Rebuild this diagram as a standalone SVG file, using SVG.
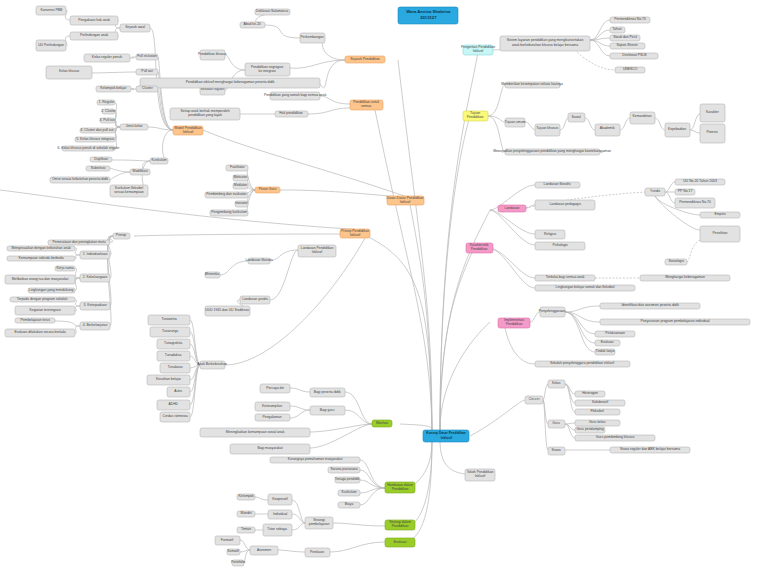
<svg xmlns="http://www.w3.org/2000/svg" width="768" height="573" viewBox="0 0 768 573">
<style>
.n rect{fill:#e2e2e2;stroke:#b5b5b5;stroke-width:.6}
.o rect{fill:#fdc48c;stroke:#e9a260;stroke-width:.6}
.p rect{fill:#f49ac8;stroke:#de70a8;stroke-width:.6}
.g rect{fill:#9acd2a;stroke:#7aa818;stroke-width:.6}
.y rect{fill:#fafa78;stroke:#d6d64a;stroke-width:.6}
.c rect{fill:#c6f6f6;stroke:#8ad8d8;stroke-width:.6}
.b rect{fill:#29a9e0;stroke:#1c8cc0;stroke-width:.6}
text{font-family:"Liberation Sans",Arial,sans-serif;font-size:6.8px;fill:#444;text-anchor:middle;transform-box:fill-box;transform-origin:center;transform:scale(.5)}
.b text{fill:#0b3550;font-size:8.4px;font-weight:bold}
#links path{fill:none;stroke:#b8b8b8;stroke-width:.7}
#links path.d{stroke-dasharray:2 1.5}
</style>
<rect width="768" height="573" fill="#fff"/>
<g id="links">
<path d="M432 430 C432 300 420 250 398 60"/>
<path d="M432 430 C430 330 410 280 375 110"/>
<path d="M432 430 C430 300 420 260 410 204"/>
<path d="M432 430 C430 300 420 260 362 234"/>
<path d="M440 430 C440 200 470 100 478 52"/>
<path d="M440 430 C440 250 460 150 470 116"/>
<path d="M440 430 C440 300 470 250 490 210"/>
<path d="M440 430 C440 320 460 280 474 248"/>
<path d="M440 430 C440 380 470 340 490 322"/>
<path d="M432 430 C432 425 420 425 400 424"/>
<path d="M432 440 C432 470 420 480 410 488"/>
<path d="M432 440 C432 500 420 520 410 526"/>
<path d="M432 440 C432 520 420 535 408 542"/>
<path d="M440 440 C440 465 450 472 465 474"/>
<path d="M470 436 C500 420 520 400 525 400"/>
<path d="M410 198 C330 170 250 150 203 130"/>
<path d="M410 198 C330 190 300 190 280 190"/>
<path d="M362 234 C300 234 200 234 134 236"/>
<path d="M365 230 C200 220 80 200 0 190"/>
<path d="M345 60 C320 60 320 40 325 38"/>
<path d="M345 60 C320 60 310 70 290 68"/>
<path d="M345 60 C320 60 330 100 320 84"/>
<path d="M300 38 C270 38 290 25 265 25"/>
<path d="M265 25 C250 25 250 12 290 12"/>
<path d="M245 70 C230 70 230 55 225 55"/>
<path d="M245 70 C230 70 230 90 225 90"/>
<path d="M350 104 C330 104 330 96 320 96"/>
<path d="M350 108 C330 108 330 114 308 114"/>
<path d="M275 114 C250 114 250 114 240 114"/>
<path d="M173 130 C150 130 160 28 150 28"/>
<path d="M120 28 C110 28 120 20 118 20"/>
<path d="M120 28 C110 28 120 36 118 36"/>
<path d="M70 20 C60 20 70 10 66 10"/>
<path d="M70 36 C60 36 70 46 66 46"/>
<path d="M173 130 C160 130 160 57 158 57"/>
<path d="M173 130 C160 130 160 72 158 72"/>
<path d="M173 130 C160 130 160 89 158 89"/>
<path d="M173 130 C160 130 160 127 148 127"/>
<path d="M173 130 C160 130 160 161 168 161"/>
<path d="M136 57 C125 57 140 58 130 58"/>
<path d="M136 72 C125 72 100 73 92 73"/>
<path d="M136 89 C125 89 140 89 131 89"/>
<path d="M120 127 C110 127 120 103 115 103"/>
<path d="M120 127 C110 127 120 112 115 112"/>
<path d="M120 127 C110 127 120 121 115 121"/>
<path d="M120 127 C110 127 120 131 115 131"/>
<path d="M120 127 C110 127 120 140 115 140"/>
<path d="M120 127 C110 127 120 149 115 149"/>
<path d="M150 161 C140 161 140 160 112 160"/>
<path d="M150 161 C140 161 140 172 150 172"/>
<path d="M150 161 C140 161 140 190 148 190"/>
<path d="M130 172 C120 172 110 168 110 168"/>
<path d="M130 172 C120 172 110 180 110 180"/>
<path d="M255 190 C250 190 245 168 248 168"/>
<path d="M255 190 C250 190 245 178 248 178"/>
<path d="M255 190 C250 190 245 186 248 186"/>
<path d="M255 190 C250 190 245 195 248 195"/>
<path d="M255 190 C250 190 245 204 248 204"/>
<path d="M255 190 C250 190 245 213 248 213"/>
<path d="M113 236 C100 236 120 242 110 242"/>
<path d="M113 236 C100 236 115 255 110 255"/>
<path d="M113 236 C100 236 115 278 110 278"/>
<path d="M113 236 C100 236 115 306 110 306"/>
<path d="M113 236 C100 236 115 326 110 326"/>
<path d="M80 255 C70 255 80 248 75 248"/>
<path d="M80 255 C70 255 80 258 75 258"/>
<path d="M80 278 C70 278 80 268 75 268"/>
<path d="M80 278 C70 278 80 279 75 279"/>
<path d="M80 278 C70 278 80 290 75 290"/>
<path d="M80 306 C70 306 80 300 75 300"/>
<path d="M80 306 C70 306 80 311 75 311"/>
<path d="M80 326 C70 326 80 321 55 321"/>
<path d="M80 326 C70 326 80 333 75 333"/>
<path d="M298 250 C280 250 280 260 270 261"/>
<path d="M298 250 C290 250 285 300 270 300"/>
<path d="M248 261 C230 261 230 275 220 275"/>
<path d="M240 300 C230 300 250 310 250 310"/>
<path d="M200 365 C195 365 195 320 190 320"/>
<path d="M200 365 C195 365 195 332 190 332"/>
<path d="M200 365 C195 365 195 344 190 344"/>
<path d="M200 365 C195 365 195 356 190 356"/>
<path d="M200 365 C195 365 195 368 190 368"/>
<path d="M200 365 C195 365 195 380 190 380"/>
<path d="M200 365 C195 365 195 392 190 392"/>
<path d="M200 365 C195 365 195 405 190 405"/>
<path d="M200 365 C195 365 195 417 190 417"/>
<path d="M365 238 C330 300 270 365 225 365"/>
<path d="M372 424 C360 424 360 392 345 392"/>
<path d="M372 424 C360 424 360 410 345 410"/>
<path d="M372 424 C360 424 330 432 310 432"/>
<path d="M372 424 C360 424 330 448 310 448"/>
<path d="M310 392 C300 392 300 388 290 388"/>
<path d="M310 410 C300 410 300 406 290 406"/>
<path d="M310 410 C300 410 300 418 290 418"/>
<path d="M385 488 C370 488 370 460 360 460"/>
<path d="M385 488 C370 488 370 470 360 470"/>
<path d="M385 488 C370 488 370 480 360 480"/>
<path d="M385 488 C370 488 370 493 360 493"/>
<path d="M385 488 C370 488 370 505 360 505"/>
<path d="M385 526 C360 526 350 523 333 523"/>
<path d="M385 542 C360 542 350 552 330 552"/>
<path d="M305 523 C300 523 300 500 292 500"/>
<path d="M305 523 C300 523 300 514 292 514"/>
<path d="M305 523 C300 523 300 530 292 530"/>
<path d="M268 500 C260 500 260 497 255 497"/>
<path d="M268 514 C260 514 260 514 255 514"/>
<path d="M263 530 C260 530 260 530 255 530"/>
<path d="M305 552 C295 552 285 550 278 550"/>
<path d="M250 550 C245 550 245 540 240 540"/>
<path d="M250 550 C245 550 245 552 240 552"/>
<path d="M250 550 C245 550 245 563 244 563"/>
<path d="M493 50 C520 50 520 42 545 42"/>
<path d="M590 40 C600 40 600 20 610 20"/>
<path d="M590 40 C600 40 600 30 610 30"/>
<path d="M590 40 C600 40 600 38 610 38"/>
<path d="M590 40 C600 40 600 46 610 46"/>
<path d="M590 40 C600 40 600 56 610 56"/>
<path d="M575 50 C585 60 600 70 615 70" class="d"/>
<path d="M488 116 C500 116 500 85 505 85"/>
<path d="M488 116 C500 116 500 122 505 122"/>
<path d="M488 116 C500 116 500 152 505 152"/>
<path d="M525 122 C530 122 530 128 535 130"/>
<path d="M560 130 C565 130 565 118 568 118"/>
<path d="M585 118 C590 118 590 130 595 130"/>
<path d="M620 130 C625 130 625 118 630 118"/>
<path d="M655 118 C660 118 660 130 665 130"/>
<path d="M690 130 C695 130 695 114 700 114"/>
<path d="M690 130 C695 130 695 133 700 133"/>
<path d="M490 210 C500 210 520 185 535 185"/>
<path d="M526 208 C560 200 600 195 645 192" class="d"/>
<path d="M526 208 C530 208 530 205 535 205"/>
<path d="M490 210 C500 210 520 234 535 234"/>
<path d="M490 210 C500 210 520 245 535 245"/>
<path d="M665 192 C670 192 670 182 675 182"/>
<path d="M665 192 C670 192 670 192 675 192"/>
<path d="M665 192 C670 192 670 203 675 203"/>
<path d="M655 196 C660 205 690 215 700 215"/>
<path d="M655 196 C660 205 690 230 700 230"/>
<path d="M700 240 C690 245 690 262 687 262" class="d"/>
<path d="M488 248 C505 248 520 278 535 278"/>
<path d="M488 248 C505 248 520 288 535 288"/>
<path d="M595 278 C610 278 620 278 640 278" class="d"/>
<path d="M530 322 C535 322 535 312 540 312"/>
<path d="M565 312 C580 312 580 306 600 306"/>
<path d="M565 312 C580 312 580 322 600 322"/>
<path d="M565 312 C580 312 580 334 595 334"/>
<path d="M565 312 C580 312 580 343 595 343"/>
<path d="M565 312 C580 312 580 352 595 352"/>
<path d="M505 328 C510 350 520 364 535 364"/>
<path d="M543 400 C545 400 545 384 548 384"/>
<path d="M543 400 C545 400 545 424 548 424"/>
<path d="M543 400 C545 400 545 450 548 450"/>
<path d="M565 384 C570 384 570 394 575 394"/>
<path d="M565 384 C570 384 570 403 575 403"/>
<path d="M565 384 C570 384 570 412 575 412"/>
<path d="M565 424 C570 424 570 423 575 423"/>
<path d="M565 424 C570 424 570 430 575 430"/>
<path d="M565 424 C570 424 570 438 575 438"/>
<path d="M565 450 C590 450 600 450 610 450"/>
</g>
<g id="title" class="b"><rect x="398" y="7" width="60" height="17" rx="2"/><text x="428" y="14.5">Wara Annisa Shabrina</text><text x="428" y="20.5">2013127</text></g>
<g id="center" class="b"><rect x="423" y="430" width="46" height="12" rx="2"/><text x="446" y="435" style="font-size:6.4px">Konsep Dasar Pendidikan</text><text x="446" y="439.5" style="font-size:6.4px">Inklusif</text></g>
<g id="o1" class="o"><rect x="345" y="56" width="40" height="7" rx="2"/><text x="365" y="60.7">Sejarah Pendidikan</text></g>
<g id="o2" class="o"><rect x="350" y="100" width="33" height="10" rx="2"/><text x="366" y="104">Pendidikan untuk</text><text x="366" y="108">semua</text></g>
<g id="o3" class="o"><rect x="387" y="196" width="37" height="9" rx="2"/><text x="405" y="200">Dasar-Dasar Pendidikan</text><text x="405" y="203.5">Inklusif</text></g>
<g id="o4" class="o"><rect x="173" y="126" width="30" height="9" rx="2"/><text x="188" y="130">Model Pendidikan</text><text x="188" y="133.5">Inklusif</text></g>
<g id="o5" class="o"><rect x="255" y="187" width="25" height="6" rx="2"/><text x="267.5" y="191">Peran Guru</text></g>
<g id="o6" class="o"><rect x="340" y="229" width="30" height="9" rx="2"/><text x="355" y="233">Prinsip Pendidikan</text><text x="355" y="236.5">Inklusif</text></g>
<g id="cy" class="c"><rect x="463" y="45" width="30" height="10" rx="2"/><text x="478" y="49">Pengertian Pendidikan</text><text x="478" y="53">Inklusif</text></g>
<g id="ye" class="y"><rect x="463" y="111" width="25" height="10" rx="2"/><text x="475" y="115">Tujuan</text><text x="475" y="119">Pendidikan</text></g>
<g id="p1" class="p"><rect x="498" y="205" width="28" height="7" rx="2"/><text x="512" y="209.5">Landasan</text></g>
<g id="p2" class="p"><rect x="466" y="243" width="27" height="10" rx="2"/><text x="479" y="247">Karakteristik</text><text x="479" y="251">Pendidikan</text></g>
<g id="p3" class="p"><rect x="498" y="318" width="32" height="10" rx="2"/><text x="514" y="322">Implementasi</text><text x="514" y="326">Pendidikan</text></g>
<g id="g1" class="g"><rect x="372" y="420" width="20" height="7" rx="2"/><text x="382" y="424.5">Manfaat</text></g>
<g id="g2" class="g"><rect x="385" y="482" width="30" height="11" rx="2"/><text x="400" y="486.5">Hambatan dalam</text><text x="400" y="490.5">Pendidikan</text></g>
<g id="g3" class="g"><rect x="385" y="520" width="30" height="10" rx="2"/><text x="400" y="524">Strategi dalam</text><text x="400" y="528">Pendidikan</text></g>
<g id="g4" class="g"><rect x="385" y="538" width="30" height="9" rx="2"/><text x="400" y="543.5">Evaluasi</text></g>
<g id="n0" class="n"><rect x="465" y="469" width="30" height="12" rx="2"/><text x="480" y="474">Tokoh Pendidikan</text><text x="480" y="478">Inklusif</text></g>
<g id="n1" class="n"><rect x="300" y="33" width="25" height="10" rx="2"/><text x="312" y="39">Perkembangan</text></g>
<g id="n2" class="n"><rect x="245" y="63" width="45" height="13" rx="2"/><text x="267" y="69">Pendidikan segregasi</text><text x="267" y="73">ke integrasi</text></g>
<g id="n3" class="n"><rect x="240" y="22" width="25" height="6" rx="2"/><text x="252" y="26">Abad ke-20</text></g>
<g id="n4" class="n"><rect x="255" y="9" width="35" height="6" rx="2"/><text x="272" y="13">Deklarasi Salamanca</text></g>
<g id="n5" class="n"><rect x="200" y="50" width="25" height="10" rx="2"/><text x="212" y="56">Pendidikan khusus</text></g>
<g id="n6" class="n"><rect x="200" y="85" width="25" height="10" rx="2"/><text x="212" y="91">Sekolah reguler</text></g>
<g id="n7" class="n"><rect x="270" y="92" width="50" height="8" rx="2"/><text x="295" y="97">Pendidikan yang ramah bagi semua anak</text></g>
<g id="n8" class="n"><rect x="275" y="111" width="33" height="6" rx="2"/><text x="291" y="115">Hak pendidikan</text></g>
<g id="n9" class="n"><rect x="170" y="108" width="70" height="12" rx="2"/><text x="205" y="113">Setiap anak berhak memperoleh</text><text x="205" y="117">pendidikan yang layak</text></g>
<g id="n10" class="n"><rect x="140" y="78" width="180" height="10" rx="2"/><text x="230" y="84">Pendidikan inklusif menghargai keberagaman peserta didik</text></g>
<g id="n11" class="n"><rect x="120" y="24" width="30" height="8" rx="2"/><text x="135" y="29">Sejarah awal</text></g>
<g id="n12" class="n"><rect x="70" y="16" width="48" height="9" rx="2"/><text x="94" y="21.5">Pengakuan hak anak</text></g>
<g id="n13" class="n"><rect x="70" y="32" width="48" height="8" rx="2"/><text x="94" y="37">Perlindungan anak</text></g>
<g id="n14" class="n"><rect x="36" y="6" width="30" height="9" rx="2"/><text x="51" y="11.5">Konvensi PBB</text></g>
<g id="n15" class="n"><rect x="36" y="40" width="30" height="11" rx="2"/><text x="51" y="46.5">UU Perlindungan</text></g>
<g id="n16" class="n"><rect x="136" y="54" width="22" height="6" rx="2"/><text x="147" y="58">Full inclusion</text></g>
<g id="n17" class="n"><rect x="84" y="54" width="46" height="8" rx="2"/><text x="107" y="59">Kelas reguler penuh</text></g>
<g id="n18" class="n"><rect x="136" y="69" width="22" height="6" rx="2"/><text x="147" y="73">Pull out</text></g>
<g id="n19" class="n"><rect x="46" y="66" width="46" height="13" rx="2"/><text x="69" y="73">Kelas khusus</text></g>
<g id="n20" class="n"><rect x="136" y="86" width="22" height="6" rx="2"/><text x="147" y="90">Cluster</text></g>
<g id="n21" class="n"><rect x="96" y="86" width="35" height="6" rx="2"/><text x="113" y="90">Kelompok belajar</text></g>
<g id="n22" class="n"><rect x="120" y="124" width="28" height="6" rx="2"/><text x="134" y="128">Jenis kelas</text></g>
<g id="n23" class="n"><rect x="97" y="100" width="18" height="5" rx="2"/><text x="106" y="103.5">1. Reguler</text></g>
<g id="n24" class="n"><rect x="102" y="109" width="13" height="5" rx="2"/><text x="108" y="112.5">2. Cluster</text></g>
<g id="n25" class="n"><rect x="100" y="118" width="15" height="5" rx="2"/><text x="107" y="121.5">3. Pull out</text></g>
<g id="n26" class="n"><rect x="80" y="128" width="35" height="5" rx="2"/><text x="97" y="131.5">4. Cluster dan pull out</text></g>
<g id="n27" class="n"><rect x="75" y="137" width="40" height="5" rx="2"/><text x="95" y="140.5">5. Kelas khusus integrasi</text></g>
<g id="n28" class="n"><rect x="62" y="146" width="53" height="5" rx="2"/><text x="88" y="149.5">6. Kelas khusus penuh di sekolah reguler</text></g>
<g id="n29" class="n"><rect x="150" y="158" width="18" height="6" rx="2"/><text x="159" y="162">Kurikulum</text></g>
<g id="n30" class="n"><rect x="90" y="157" width="22" height="5" rx="2"/><text x="101" y="160.5">Duplikasi</text></g>
<g id="n31" class="n"><rect x="130" y="169" width="20" height="6" rx="2"/><text x="140" y="173">Modifikasi</text></g>
<g id="n32" class="n"><rect x="86" y="166" width="24" height="5" rx="2"/><text x="98" y="169.5">Substitusi</text></g>
<g id="n33" class="n"><rect x="50" y="177" width="60" height="6" rx="2"/><text x="80" y="181">Omisi sesuai kebutuhan peserta didik</text></g>
<g id="n34" class="n"><rect x="110" y="185" width="38" height="12" rx="2"/><text x="129" y="190">Kurikulum fleksibel</text><text x="129" y="194">sesuai kemampuan</text></g>
<g id="n35" class="n"><rect x="226" y="165" width="22" height="6" rx="2"/><text x="237" y="169">Fasilitator</text></g>
<g id="n36" class="n"><rect x="233" y="175" width="15" height="6" rx="2"/><text x="240" y="179">Motivator</text></g>
<g id="n37" class="n"><rect x="233" y="183" width="15" height="6" rx="2"/><text x="240" y="187">Mediator</text></g>
<g id="n38" class="n"><rect x="205" y="192" width="43" height="6" rx="2"/><text x="226" y="196">Pembimbing dan evaluator</text></g>
<g id="n39" class="n"><rect x="235" y="201" width="13" height="6" rx="2"/><text x="241" y="205">Inovator</text></g>
<g id="n40" class="n"><rect x="210" y="210" width="38" height="6" rx="2"/><text x="229" y="214">Pengembang kurikulum</text></g>
<g id="n41" class="n"><rect x="113" y="233" width="17" height="6" rx="2"/><text x="121" y="237">Prinsip</text></g>
<g id="n42" class="n"><rect x="48" y="240" width="62" height="5" rx="2"/><text x="79" y="243.5">Pemerataan dan peningkatan mutu</text></g>
<g id="n43" class="n"><rect x="80" y="251" width="30" height="8" rx="2"/><text x="95" y="256">1. Individualisasi</text></g>
<g id="n44" class="n"><rect x="7" y="246" width="68" height="5" rx="2"/><text x="41" y="249.5">Menyesuaikan dengan kebutuhan anak</text></g>
<g id="n45" class="n"><rect x="7" y="256" width="68" height="5" rx="2"/><text x="41" y="259.5">Kemampuan individu berbeda</text></g>
<g id="n46" class="n"><rect x="80" y="274" width="30" height="8" rx="2"/><text x="95" y="279">2. Kekeluargaan</text></g>
<g id="n47" class="n"><rect x="55" y="266" width="20" height="5" rx="2"/><text x="65" y="269.5">Kerja sama</text></g>
<g id="n48" class="n"><rect x="5" y="275" width="70" height="9" rx="2"/><text x="40" y="280.5">Melibatkan orang tua dan masyarakat</text></g>
<g id="n49" class="n"><rect x="28" y="288" width="47" height="5" rx="2"/><text x="51" y="291.5">Lingkungan yang mendukung</text></g>
<g id="n50" class="n"><rect x="80" y="302" width="30" height="8" rx="2"/><text x="95" y="307">3. Keterpaduan</text></g>
<g id="n51" class="n"><rect x="10" y="297" width="65" height="5" rx="2"/><text x="42" y="300.5">Terpadu dengan program sekolah</text></g>
<g id="n52" class="n"><rect x="15" y="306" width="60" height="9" rx="2"/><text x="45" y="311.5">Kegiatan terintegrasi</text></g>
<g id="n53" class="n"><rect x="80" y="322" width="30" height="8" rx="2"/><text x="95" y="327">4. Berkelanjutan</text></g>
<g id="n54" class="n"><rect x="15" y="318" width="40" height="5" rx="2"/><text x="35" y="321.5">Pembelajaran terus</text></g>
<g id="n55" class="n"><rect x="5" y="329" width="70" height="8" rx="2"/><text x="40" y="334">Evaluasi dilakukan secara berkala</text></g>
<g id="n56" class="n"><rect x="298" y="245" width="38" height="12" rx="2"/><text x="317" y="250">Landasan Pendidikan</text><text x="317" y="254">Inklusif</text></g>
<g id="n57" class="n"><rect x="248" y="258" width="22" height="6" rx="2"/><text x="259" y="262">Landasan filosofis</text></g>
<g id="n58" class="n"><rect x="240" y="296" width="30" height="8" rx="2"/><text x="255" y="301">Landasan yuridis</text></g>
<g id="n59" class="n"><rect x="205" y="272" width="15" height="6" rx="2"/><text x="212" y="276">Bhinneka</text></g>
<g id="n60" class="n"><rect x="205" y="306" width="45" height="10" rx="2"/><text x="227" y="312">UUD 1945 dan UU Sisdiknas</text></g>
<g id="n61" class="n"><rect x="200" y="361" width="25" height="8" rx="2"/><text x="212" y="366">Anak Berkebutuhan</text></g>
<g id="n62" class="n"><rect x="148" y="315" width="42" height="10" rx="2"/><text x="169" y="321">Tunanetra</text></g>
<g id="n63" class="n"><rect x="150" y="327" width="40" height="10" rx="2"/><text x="170" y="333">Tunarungu</text></g>
<g id="n64" class="n"><rect x="157" y="339" width="33" height="10" rx="2"/><text x="173" y="345">Tunagrahita</text></g>
<g id="n65" class="n"><rect x="157" y="351" width="33" height="10" rx="2"/><text x="173" y="357">Tunadaksa</text></g>
<g id="n66" class="n"><rect x="160" y="363" width="30" height="10" rx="2"/><text x="175" y="369">Tunalaras</text></g>
<g id="n67" class="n"><rect x="147" y="375" width="43" height="10" rx="2"/><text x="168" y="381">Kesulitan belajar</text></g>
<g id="n68" class="n"><rect x="167" y="387" width="23" height="10" rx="2"/><text x="178" y="393">Autis</text></g>
<g id="n69" class="n"><rect x="157" y="400" width="33" height="10" rx="2"/><text x="173" y="406">ADHD</text></g>
<g id="n70" class="n"><rect x="160" y="412" width="30" height="10" rx="2"/><text x="175" y="418">Cerdas istimewa</text></g>
<g id="n71" class="n"><rect x="310" y="388" width="35" height="9" rx="2"/><text x="327" y="393.5">Bagi peserta didik</text></g>
<g id="n72" class="n"><rect x="310" y="406" width="35" height="9" rx="2"/><text x="327" y="411.5">Bagi guru</text></g>
<g id="n73" class="n"><rect x="200" y="428" width="110" height="9" rx="2"/><text x="255" y="433.5">Meningkatkan kemampuan sosial anak</text></g>
<g id="n74" class="n"><rect x="230" y="444" width="80" height="10" rx="2"/><text x="270" y="450">Bagi masyarakat</text></g>
<g id="n75" class="n"><rect x="260" y="384" width="30" height="9" rx="2"/><text x="275" y="389.5">Percaya diri</text></g>
<g id="n76" class="n"><rect x="255" y="402" width="35" height="9" rx="2"/><text x="272" y="407.5">Keterampilan</text></g>
<g id="n77" class="n"><rect x="255" y="414" width="35" height="7" rx="2"/><text x="272" y="418.5">Pengalaman</text></g>
<g id="n78" class="n"><rect x="270" y="457" width="90" height="6" rx="2"/><text x="315" y="461">Kurangnya pemahaman masyarakat</text></g>
<g id="n79" class="n"><rect x="328" y="467" width="32" height="6" rx="2"/><text x="344" y="471">Sarana prasarana</text></g>
<g id="n80" class="n"><rect x="335" y="477" width="25" height="6" rx="2"/><text x="347" y="481">Tenaga pendidik</text></g>
<g id="n81" class="n"><rect x="338" y="490" width="22" height="6" rx="2"/><text x="349" y="494">Kurikulum</text></g>
<g id="n82" class="n"><rect x="338" y="502" width="22" height="6" rx="2"/><text x="349" y="506">Biaya</text></g>
<g id="n83" class="n"><rect x="305" y="517" width="28" height="12" rx="2"/><text x="319" y="522">Strategi</text><text x="319" y="526">pembelajaran</text></g>
<g id="n84" class="n"><rect x="268" y="494" width="24" height="11" rx="2"/><text x="280" y="501">Kooperatif</text></g>
<g id="n85" class="n"><rect x="268" y="510" width="24" height="9" rx="2"/><text x="280" y="515.5">Individual</text></g>
<g id="n86" class="n"><rect x="263" y="524" width="29" height="12" rx="2"/><text x="277" y="531">Tutor sebaya</text></g>
<g id="n87" class="n"><rect x="237" y="494" width="18" height="6" rx="2"/><text x="246" y="498">Kelompok</text></g>
<g id="n88" class="n"><rect x="237" y="511" width="18" height="6" rx="2"/><text x="246" y="515">Mandiri</text></g>
<g id="n89" class="n"><rect x="237" y="527" width="18" height="6" rx="2"/><text x="246" y="531">Teman</text></g>
<g id="n90" class="n"><rect x="305" y="548" width="25" height="9" rx="2"/><text x="317" y="553.5">Penilaian</text></g>
<g id="n91" class="n"><rect x="250" y="546" width="28" height="9" rx="2"/><text x="264" y="551.5">Asesmen</text></g>
<g id="n92" class="n"><rect x="215" y="536" width="25" height="9" rx="2"/><text x="227" y="541.5">Formatif</text></g>
<g id="n93" class="n"><rect x="227" y="549" width="13" height="6" rx="2"/><text x="233" y="553">Sumatif</text></g>
<g id="n94" class="n"><rect x="232" y="560" width="12" height="6" rx="2"/><text x="238" y="564">Portofolio</text></g>
<g id="n95" class="n"><rect x="500" y="36" width="90" height="15" rx="2"/><text x="545" y="42">Sistem layanan pendidikan yang mengikutsertakan</text><text x="545" y="46.5">anak berkebutuhan khusus belajar bersama</text></g>
<g id="n96" class="n"><rect x="610" y="17" width="40" height="6" rx="2"/><text x="630" y="21">Permendiknas No.70</text></g>
<g id="n97" class="n"><rect x="610" y="27" width="15" height="6" rx="2"/><text x="617" y="31">Tahun</text></g>
<g id="n98" class="n"><rect x="610" y="35" width="30" height="6" rx="2"/><text x="625" y="39">Staub dan Peck</text></g>
<g id="n99" class="n"><rect x="610" y="43" width="35" height="6" rx="2"/><text x="627" y="47">Sapon-Shevin</text></g>
<g id="n100" class="n"><rect x="610" y="53" width="48" height="6" rx="2"/><text x="634" y="57">Direktorat PSLB</text></g>
<g id="n101" class="n"><rect x="615" y="67" width="30" height="6" rx="2"/><text x="630" y="71">UNESCO</text></g>
<g id="n102" class="n"><rect x="505" y="82" width="55" height="6" rx="2"/><text x="532" y="86">Memberikan kesempatan seluas-luasnya</text></g>
<g id="n103" class="n"><rect x="505" y="118" width="20" height="9" rx="2"/><text x="515" y="123.5">Tujuan umum</text></g>
<g id="n104" class="n"><rect x="535" y="124" width="25" height="12" rx="2"/><text x="547" y="130">Tujuan khusus</text></g>
<g id="n105" class="n"><rect x="568" y="113" width="17" height="9" rx="2"/><text x="576" y="118.5">Sosial</text></g>
<g id="n106" class="n"><rect x="595" y="124" width="25" height="12" rx="2"/><text x="607" y="130">Akademik</text></g>
<g id="n107" class="n"><rect x="630" y="112" width="25" height="12" rx="2"/><text x="642" y="118">Kemandirian</text></g>
<g id="n108" class="n"><rect x="665" y="123" width="25" height="14" rx="2"/><text x="677" y="131">Kepribadian</text></g>
<g id="n109" class="n"><rect x="700" y="104" width="25" height="18" rx="2"/><text x="712" y="114">Karakter</text></g>
<g id="n110" class="n"><rect x="700" y="124" width="25" height="19" rx="2"/><text x="712" y="134">Potensi</text></g>
<g id="n111" class="n"><rect x="505" y="149" width="95" height="6" rx="2"/><text x="552" y="153">Mewujudkan penyelenggaraan pendidikan yang menghargai keanekaragaman</text></g>
<g id="n112" class="n"><rect x="535" y="182" width="45" height="6" rx="2"/><text x="557" y="186">Landasan filosofis</text></g>
<g id="n113" class="n"><rect x="645" y="188" width="20" height="8" rx="2"/><text x="655" y="193">Yuridis</text></g>
<g id="n114" class="n"><rect x="675" y="179" width="50" height="6" rx="2"/><text x="700" y="183">UU No.20 Tahun 2003</text></g>
<g id="n115" class="n"><rect x="675" y="189" width="20" height="6" rx="2"/><text x="685" y="193">PP No.17</text></g>
<g id="n116" class="n"><rect x="675" y="198" width="40" height="10" rx="2"/><text x="695" y="204">Permendiknas No.70</text></g>
<g id="n117" class="n"><rect x="535" y="200" width="60" height="10" rx="2"/><text x="565" y="206">Landasan pedagogis</text></g>
<g id="n118" class="n"><rect x="700" y="212" width="40" height="6" rx="2"/><text x="720" y="216">Empiris</text></g>
<g id="n119" class="n"><rect x="700" y="226" width="40" height="16" rx="2"/><text x="720" y="235">Penelitian</text></g>
<g id="n120" class="n"><rect x="535" y="230" width="30" height="9" rx="2"/><text x="550" y="235.5">Religius</text></g>
<g id="n121" class="n"><rect x="535" y="242" width="50" height="8" rx="2"/><text x="560" y="247">Psikologis</text></g>
<g id="n122" class="n"><rect x="665" y="259" width="22" height="6" rx="2"/><text x="676" y="263">Sosiologis</text></g>
<g id="n123" class="n"><rect x="535" y="275" width="60" height="6" rx="2"/><text x="565" y="279">Terbuka bagi semua anak</text></g>
<g id="n124" class="n"><rect x="640" y="275" width="90" height="6" rx="2"/><text x="685" y="279">Menghargai keberagaman</text></g>
<g id="n125" class="n"><rect x="535" y="285" width="100" height="6" rx="2"/><text x="585" y="289">Lingkungan belajar ramah dan fleksibel</text></g>
<g id="n126" class="n"><rect x="540" y="307" width="25" height="10" rx="2"/><text x="552" y="313">Penyelenggaraan</text></g>
<g id="n127" class="n"><rect x="600" y="303" width="100" height="6" rx="2"/><text x="650" y="307">Identifikasi dan asesmen peserta didik</text></g>
<g id="n128" class="n"><rect x="600" y="319" width="150" height="6" rx="2"/><text x="675" y="323">Penyusunan program pembelajaran individual</text></g>
<g id="n129" class="n"><rect x="595" y="331" width="40" height="6" rx="2"/><text x="615" y="335">Pelaksanaan</text></g>
<g id="n130" class="n"><rect x="595" y="340" width="25" height="6" rx="2"/><text x="607" y="344">Evaluasi</text></g>
<g id="n131" class="n"><rect x="595" y="349" width="20" height="6" rx="2"/><text x="605" y="353">Tindak lanjut</text></g>
<g id="n132" class="n"><rect x="535" y="361" width="95" height="6" rx="2"/><text x="582" y="365">Sekolah penyelenggara pendidikan inklusif</text></g>
<g id="n133" class="n"><rect x="525" y="396" width="18" height="8" rx="2"/><text x="534" y="401">Ciri-ciri</text></g>
<g id="n134" class="n"><rect x="548" y="380" width="17" height="8" rx="2"/><text x="556" y="385">Kelas</text></g>
<g id="n135" class="n"><rect x="575" y="391" width="30" height="6" rx="2"/><text x="590" y="395">Heterogen</text></g>
<g id="n136" class="n"><rect x="575" y="400" width="50" height="6" rx="2"/><text x="600" y="404">Kolaboratif</text></g>
<g id="n137" class="n"><rect x="575" y="409" width="45" height="6" rx="2"/><text x="597" y="413">Fleksibel</text></g>
<g id="n138" class="n"><rect x="548" y="420" width="17" height="8" rx="2"/><text x="556" y="425">Guru</text></g>
<g id="n139" class="n"><rect x="575" y="420" width="45" height="6" rx="2"/><text x="597" y="424">Guru kelas</text></g>
<g id="n140" class="n"><rect x="575" y="427" width="30" height="6" rx="2"/><text x="590" y="431">Guru pendamping</text></g>
<g id="n141" class="n"><rect x="575" y="435" width="80" height="6" rx="2"/><text x="615" y="439">Guru pembimbing khusus</text></g>
<g id="n142" class="n"><rect x="548" y="447" width="17" height="8" rx="2"/><text x="556" y="452">Siswa</text></g>
<g id="n143" class="n"><rect x="610" y="447" width="80" height="6" rx="2"/><text x="650" y="451">Siswa reguler dan ABK belajar bersama</text></g>
</svg>
